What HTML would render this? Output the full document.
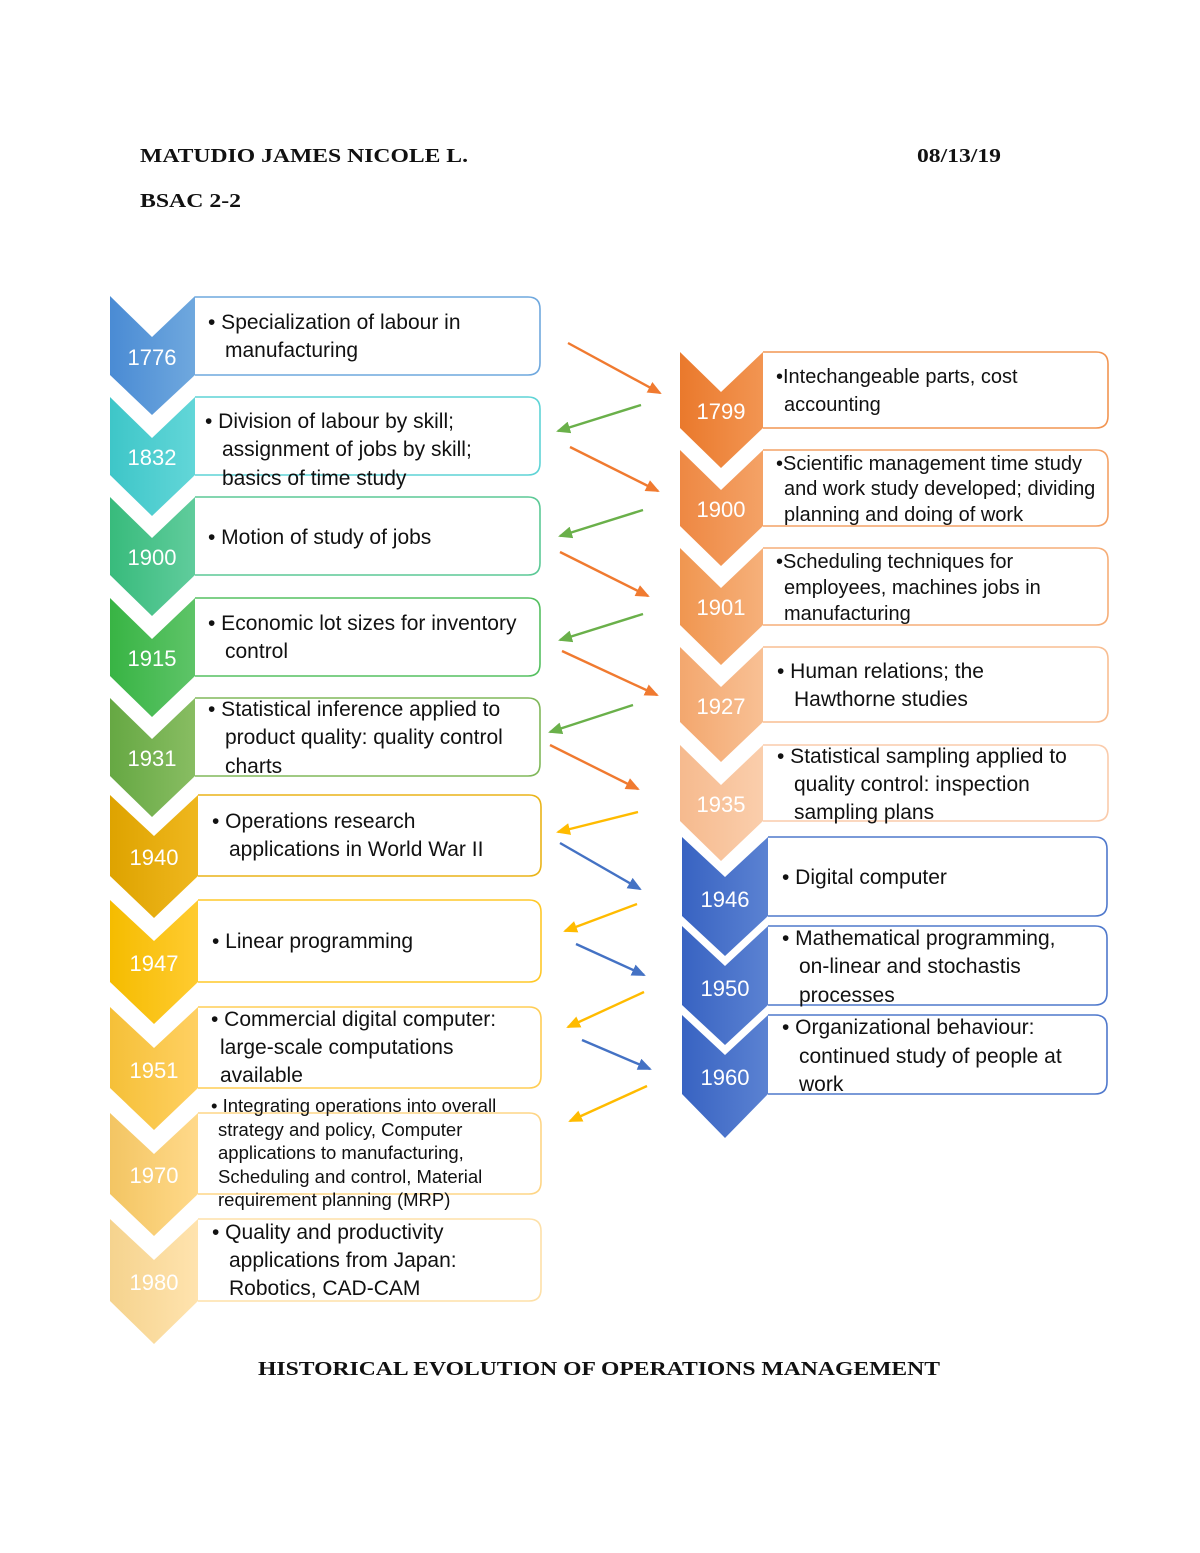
<!DOCTYPE html>
<html><head><meta charset="utf-8"><style>
html,body{margin:0;padding:0;background:#fff;}
svg{display:block;}
.t{font-family:"Liberation Sans",sans-serif;font-size:21px;fill:#111;}
.s{font-family:"Liberation Sans",sans-serif;font-size:18.5px;fill:#111;}
.m{font-family:"Liberation Sans",sans-serif;font-size:20px;fill:#111;}
.y{font-family:"Liberation Sans",sans-serif;font-size:22px;fill:#fff;text-anchor:middle;}
.h{font-family:"Liberation Serif",serif;font-size:20px;fill:#111;}
</style></head><body>
<svg width="1200" height="1553" viewBox="0 0 1200 1553" xmlns="http://www.w3.org/2000/svg">
<defs>
<linearGradient id="g1" x1="0" x2="1"><stop offset="0" stop-color="#4a8bd4"/><stop offset="1" stop-color="#6fa8de"/></linearGradient>
<linearGradient id="g2" x1="0" x2="1"><stop offset="0" stop-color="#3ec6c8"/><stop offset="1" stop-color="#62d6d8"/></linearGradient>
<linearGradient id="g3" x1="0" x2="1"><stop offset="0" stop-color="#38bb7c"/><stop offset="1" stop-color="#60cc9c"/></linearGradient>
<linearGradient id="g4" x1="0" x2="1"><stop offset="0" stop-color="#38b444"/><stop offset="1" stop-color="#5ec468"/></linearGradient>
<linearGradient id="g5" x1="0" x2="1"><stop offset="0" stop-color="#66a843"/><stop offset="1" stop-color="#88bd62"/></linearGradient>
<linearGradient id="g6" x1="0" x2="1"><stop offset="0" stop-color="#dea300"/><stop offset="1" stop-color="#efb71e"/></linearGradient>
<linearGradient id="g7" x1="0" x2="1"><stop offset="0" stop-color="#f5bc00"/><stop offset="1" stop-color="#ffcb30"/></linearGradient>
<linearGradient id="g8" x1="0" x2="1"><stop offset="0" stop-color="#f5c038"/><stop offset="1" stop-color="#ffd062"/></linearGradient>
<linearGradient id="g9" x1="0" x2="1"><stop offset="0" stop-color="#f3c563"/><stop offset="1" stop-color="#ffd98a"/></linearGradient>
<linearGradient id="g10" x1="0" x2="1"><stop offset="0" stop-color="#f5d38e"/><stop offset="1" stop-color="#ffe3ae"/></linearGradient>
<linearGradient id="r1" x1="0" x2="1"><stop offset="0" stop-color="#ea792c"/><stop offset="1" stop-color="#f29552"/></linearGradient>
<linearGradient id="r2" x1="0" x2="1"><stop offset="0" stop-color="#ee8843"/><stop offset="1" stop-color="#f4a266"/></linearGradient>
<linearGradient id="r3" x1="0" x2="1"><stop offset="0" stop-color="#f09650"/><stop offset="1" stop-color="#f6b07a"/></linearGradient>
<linearGradient id="r4" x1="0" x2="1"><stop offset="0" stop-color="#f3a76e"/><stop offset="1" stop-color="#f8c094"/></linearGradient>
<linearGradient id="r5" x1="0" x2="1"><stop offset="0" stop-color="#f6ba8e"/><stop offset="1" stop-color="#faceac"/></linearGradient>
<linearGradient id="b1" x1="0" x2="1"><stop offset="0" stop-color="#3863c2"/><stop offset="1" stop-color="#5b82d2"/></linearGradient>
<marker id="ao" markerWidth="14" markerHeight="12" refX="12" refY="6" orient="auto" markerUnits="userSpaceOnUse"><path d="M0,0 L14,6 L0,12 Z" fill="#f07a30"/></marker>
<marker id="ag" markerWidth="14" markerHeight="12" refX="12" refY="6" orient="auto" markerUnits="userSpaceOnUse"><path d="M0,0 L14,6 L0,12 Z" fill="#6ab04a"/></marker>
<marker id="ay" markerWidth="14" markerHeight="12" refX="12" refY="6" orient="auto" markerUnits="userSpaceOnUse"><path d="M0,0 L14,6 L0,12 Z" fill="#ffbb00"/></marker>
<marker id="ab" markerWidth="14" markerHeight="12" refX="12" refY="6" orient="auto" markerUnits="userSpaceOnUse"><path d="M0,0 L14,6 L0,12 Z" fill="#4472c4"/></marker>
</defs>

<text class="h" x="140" y="162" textLength="328" lengthAdjust="spacingAndGlyphs" font-weight="bold">MATUDIO JAMES NICOLE L.</text>
<text class="h" x="917" y="162" textLength="84" lengthAdjust="spacingAndGlyphs" font-weight="bold">08/13/19</text>
<text class="h" x="140" y="207" textLength="101" lengthAdjust="spacingAndGlyphs" font-weight="bold">BSAC 2-2</text>

<g fill="#fff" stroke-width="1.6">
<path d="M195 297 H528 Q540 297 540 309 V363 Q540 375 528 375 H195" stroke="#6fa8de"/>
<path d="M195 397 H528 Q540 397 540 409 V463 Q540 475 528 475 H195" stroke="#5fd4d6"/>
<path d="M195 497 H528 Q540 497 540 509 V563 Q540 575 528 575 H195" stroke="#5cc996"/>
<path d="M195 598 H528 Q540 598 540 610 V664 Q540 676 528 676 H195" stroke="#55c060"/>
<path d="M195 698 H528 Q540 698 540 710 V764 Q540 776 528 776 H195" stroke="#80b85a"/>
<path d="M198 795 H529 Q541 795 541 807 V864 Q541 876 529 876 H198" stroke="#eab418"/>
<path d="M198 900 H529 Q541 900 541 912 V970 Q541 982 529 982 H198" stroke="#ffc828"/>
<path d="M198 1007 H529 Q541 1007 541 1019 V1076 Q541 1088 529 1088 H198" stroke="#ffcd55"/>
<path d="M198 1113 H529 Q541 1113 541 1125 V1182 Q541 1194 529 1194 H198" stroke="#fed585"/>
<path d="M198 1219 H529 Q541 1219 541 1231 V1289 Q541 1301 529 1301 H198" stroke="#fde0a8"/>
</g>
<path d="M110 296 L152 337 L195 296 V375 L152 415 L110 375 Z" fill="url(#g1)"/>
<path d="M110 397 L152 438 L195 397 V475 L152 516 L110 475 Z" fill="url(#g2)"/>
<path d="M110 497 L152 538 L195 497 V575 L152 616 L110 575 Z" fill="url(#g3)"/>
<path d="M110 598 L152 639 L195 598 V676 L152 717 L110 676 Z" fill="url(#g4)"/>
<path d="M110 698 L152 739 L195 698 V776 L152 817 L110 776 Z" fill="url(#g5)"/>
<path d="M110 795 L154 836 L198 795 V876 L154 918 L110 876 Z" fill="url(#g6)"/>
<path d="M110 900 L154 941 L198 900 V982 L154 1024 L110 982 Z" fill="url(#g7)"/>
<path d="M110 1007 L154 1048 L198 1007 V1088 L154 1130 L110 1088 Z" fill="url(#g8)"/>
<path d="M110 1113 L154 1154 L198 1113 V1194 L154 1236 L110 1194 Z" fill="url(#g9)"/>
<path d="M110 1219 L154 1260 L198 1219 V1301 L154 1344 L110 1301 Z" fill="url(#g10)"/>
<text class="y" x="152" y="365">1776</text>
<text class="y" x="152" y="465">1832</text>
<text class="y" x="152" y="565">1900</text>
<text class="y" x="152" y="666">1915</text>
<text class="y" x="152" y="766">1931</text>
<text class="y" x="154" y="865">1940</text>
<text class="y" x="154" y="971">1947</text>
<text class="y" x="154" y="1078">1951</text>
<text class="y" x="154" y="1183">1970</text>
<text class="y" x="154" y="1290">1980</text>

<text class="t" x="208" y="329">• Specialization of labour in</text>
<text class="t" x="225" y="357">manufacturing</text>
<text class="t" x="205" y="428">• Division of labour by skill;</text>
<text class="t" x="222" y="456">assignment of jobs by skill;</text>
<text class="t" x="222" y="485">basics of time study</text>
<text class="t" x="208" y="544">• Motion of study of jobs</text>
<text class="t" x="208" y="630">•  Economic lot sizes for inventory</text>
<text class="t" x="225" y="658">control</text>
<text class="t" x="208" y="716">• Statistical inference applied to</text>
<text class="t" x="225" y="744">product quality: quality control</text>
<text class="t" x="225" y="773">charts</text>
<text class="t" x="212" y="828">• Operations research</text>
<text class="t" x="229" y="856">applications in World War II</text>
<text class="t" x="212" y="948">• Linear programming</text>
<text class="t" x="211" y="1026">• Commercial digital computer:</text>
<text class="t" x="220" y="1054">large-scale computations</text>
<text class="t" x="220" y="1082">available</text>
<text class="s" x="211" y="1112">• Integrating operations into overall</text>
<text class="s" x="218" y="1136">strategy and policy, Computer</text>
<text class="s" x="218" y="1159">applications to manufacturing,</text>
<text class="s" x="218" y="1183">Scheduling and control, Material</text>
<text class="s" x="218" y="1206">requirement planning (MRP)</text>
<text class="t" x="212" y="1239">• Quality and productivity</text>
<text class="t" x="229" y="1267">applications from Japan:</text>
<text class="t" x="229" y="1295">Robotics, CAD-CAM</text>

<g fill="#fff" stroke-width="1.6">
<path d="M763 352 H1096 Q1108 352 1108 364 V416 Q1108 428 1096 428 H763" stroke="#f29552"/>
<path d="M763 450 H1096 Q1108 450 1108 462 V514 Q1108 526 1096 526 H763" stroke="#f4a266"/>
<path d="M763 548 H1096 Q1108 548 1108 560 V613 Q1108 625 1096 625 H763" stroke="#f6ae78"/>
<path d="M763 647 H1096 Q1108 647 1108 659 V710 Q1108 722 1096 722 H763" stroke="#f8be92"/>
<path d="M763 745 H1096 Q1108 745 1108 757 V809 Q1108 821 1096 821 H763" stroke="#facbab"/>
<path d="M768 837 H1095 Q1107 837 1107 849 V904 Q1107 916 1095 916 H768" stroke="#4f78cc"/>
<path d="M768 926 H1095 Q1107 926 1107 938 V993 Q1107 1005 1095 1005 H768" stroke="#4f78cc"/>
<path d="M768 1015 H1095 Q1107 1015 1107 1027 V1082 Q1107 1094 1095 1094 H768" stroke="#4f78cc"/>
</g>
<path d="M680 352 L721 392 L763 352 V428 L721 468 L680 428 Z" fill="url(#r1)"/>
<path d="M680 450 L721 490 L763 450 V526 L721 566 L680 526 Z" fill="url(#r2)"/>
<path d="M680 548 L721 588 L763 548 V625 L721 665 L680 625 Z" fill="url(#r3)"/>
<path d="M680 647 L721 687 L763 647 V722 L721 762 L680 722 Z" fill="url(#r4)"/>
<path d="M680 745 L721 785 L763 745 V821 L721 861 L680 821 Z" fill="url(#r5)"/>
<path d="M682 837 L725 877 L768 837 V916 L725 956 L682 916 Z" fill="url(#b1)"/>
<path d="M682 926 L725 966 L768 926 V1005 L725 1045 L682 1005 Z" fill="url(#b1)"/>
<path d="M682 1015 L725 1055 L768 1015 V1094 L725 1138 L682 1094 Z" fill="url(#b1)"/>
<text class="y" x="721" y="419">1799</text>
<text class="y" x="721" y="517">1900</text>
<text class="y" x="721" y="615">1901</text>
<text class="y" x="721" y="714">1927</text>
<text class="y" x="721" y="812">1935</text>
<text class="y" x="725" y="907">1946</text>
<text class="y" x="725" y="996">1950</text>
<text class="y" x="725" y="1085">1960</text>

<text class="m" x="776" y="383">•Intechangeable parts, cost</text>
<text class="m" x="784" y="411">accounting</text>
<text class="m" x="776" y="470">•Scientific management time study</text>
<text class="m" x="784" y="495">and work study developed; dividing</text>
<text class="m" x="784" y="521">planning and doing of work</text>
<text class="m" x="776" y="568">•Scheduling techniques for</text>
<text class="m" x="784" y="594">employees, machines jobs in</text>
<text class="m" x="784" y="620">manufacturing</text>
<text class="t" x="777" y="678">• Human relations; the</text>
<text class="t" x="794" y="706">Hawthorne studies</text>
<text class="t" x="777" y="763">• Statistical sampling applied to</text>
<text class="t" x="794" y="791">quality control: inspection</text>
<text class="t" x="794" y="819">sampling plans</text>
<text class="t" x="782" y="884">• Digital computer</text>
<text class="t" x="782" y="945">• Mathematical programming,</text>
<text class="t" x="799" y="973">on-linear and stochastis</text>
<text class="t" x="799" y="1002">processes</text>
<text class="t" x="782" y="1034">•  Organizational behaviour:</text>
<text class="t" x="799" y="1063">continued study of people at</text>
<text class="t" x="799" y="1091">work</text>

<g stroke-width="2.4" fill="none">
<line x1="568" y1="343" x2="660" y2="393" stroke="#f07a30" marker-end="url(#ao)"/>
<line x1="570" y1="447" x2="658" y2="491" stroke="#f07a30" marker-end="url(#ao)"/>
<line x1="560" y1="552" x2="648" y2="596" stroke="#f07a30" marker-end="url(#ao)"/>
<line x1="562" y1="651" x2="657" y2="695" stroke="#f07a30" marker-end="url(#ao)"/>
<line x1="550" y1="745" x2="638" y2="789" stroke="#f07a30" marker-end="url(#ao)"/>
<line x1="641" y1="405" x2="558" y2="431" stroke="#6ab04a" marker-end="url(#ag)"/>
<line x1="643" y1="510" x2="560" y2="536" stroke="#6ab04a" marker-end="url(#ag)"/>
<line x1="643" y1="614" x2="560" y2="640" stroke="#6ab04a" marker-end="url(#ag)"/>
<line x1="633" y1="705" x2="550" y2="732" stroke="#6ab04a" marker-end="url(#ag)"/>
<line x1="638" y1="812" x2="558" y2="832" stroke="#ffbb00" marker-end="url(#ay)"/>
<line x1="637" y1="904" x2="565" y2="931" stroke="#ffbb00" marker-end="url(#ay)"/>
<line x1="644" y1="992" x2="568" y2="1027" stroke="#ffbb00" marker-end="url(#ay)"/>
<line x1="647" y1="1086" x2="570" y2="1121" stroke="#ffbb00" marker-end="url(#ay)"/>
<line x1="560" y1="843" x2="640" y2="889" stroke="#4472c4" marker-end="url(#ab)"/>
<line x1="576" y1="944" x2="644" y2="975" stroke="#4472c4" marker-end="url(#ab)"/>
<line x1="582" y1="1040" x2="650" y2="1069" stroke="#4472c4" marker-end="url(#ab)"/>
</g>

<text class="h" x="258" y="1375" textLength="682" lengthAdjust="spacingAndGlyphs" font-weight="bold">HISTORICAL EVOLUTION OF OPERATIONS MANAGEMENT</text>
</svg>
</body></html>
